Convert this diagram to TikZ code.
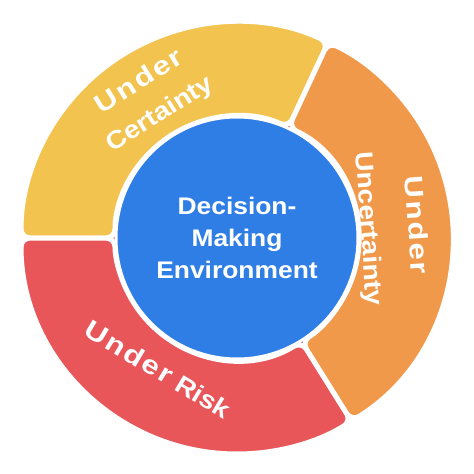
\documentclass[tikz,border=0pt]{standalone}
\usepackage{fontspec}
\setmainfont{Liberation Sans}
\newfontfamily\ringfont{Liberation Sans}[FakeStretch=1.12]
\newfontfamily\ringspaced{Liberation Sans}[FakeStretch=1.2, LetterSpace=8]
\newfontfamily\envfont{Liberation Sans}[FakeStretch=1.1]
\newcommand\underword{{\ringspaced\fontsize{26}{28}\selectfont Under}}
\usetikzlibrary{positioning}

\definecolor{certyellow}{HTML}{F2C34F}
\definecolor{uncorange}{HTML}{F0994A}
\definecolor{riskred}{HTML}{E9565A}
\definecolor{envblue}{HTML}{2E7EE6}

\begin{document}
\begin{tikzpicture}[x=1pt, y=1pt,
  segment/.style={draw=white, line width=5pt, rounded corners=9pt},
  segtext/.style={text=white, inner sep=0pt, font=\ringfont\bfseries\fontsize{25}{28}\selectfont}]
  \useasboundingbox (-237,-236) rectangle (237,238);
  % red shows through at the inner joins
  \fill[riskred] (0,0) circle (127pt);

  \draw[segment, fill=certyellow] (65:216pt) arc[start angle=65, end angle=180, radius=216pt]
    -- (180:122pt) arc[start angle=180, end angle=65, radius=122pt] -- cycle;
  \draw[segment, fill=riskred] (180:216pt) arc[start angle=180, end angle=302, radius=216pt]
    -- (302:122pt) arc[start angle=302, end angle=180, radius=122pt] -- cycle;
  \draw[segment, fill=uncorange] (302:216pt) arc[start angle=302, end angle=425, radius=216pt]
    -- (425:122pt) arc[start angle=425, end angle=302, radius=122pt] -- cycle;

  \node[circle, fill=envblue, draw=white, line width=3pt, minimum size=242pt, inner sep=0pt,
    align=center, text=white, font=\envfont\bfseries\fontsize{24}{32}\selectfont] (env) at (0,0)
    {Decision-\\Making\\Environment};

  \node[segtext, rotate=32] (yunder) at (122:186) {\underword};
  \node[segtext, rotate=32] (ycert) at (122:145) {Certainty};
  \node[segtext, rotate=-86] (ounder) at (4:181) {\underword};
  \node[segtext, rotate=-86] (ouncert) at (4:131) {Uncertainty};
  \node[segtext, rotate=-31] (rrisk) at (239:153) {\underword{} Risk};
\end{tikzpicture}
\end{document}
